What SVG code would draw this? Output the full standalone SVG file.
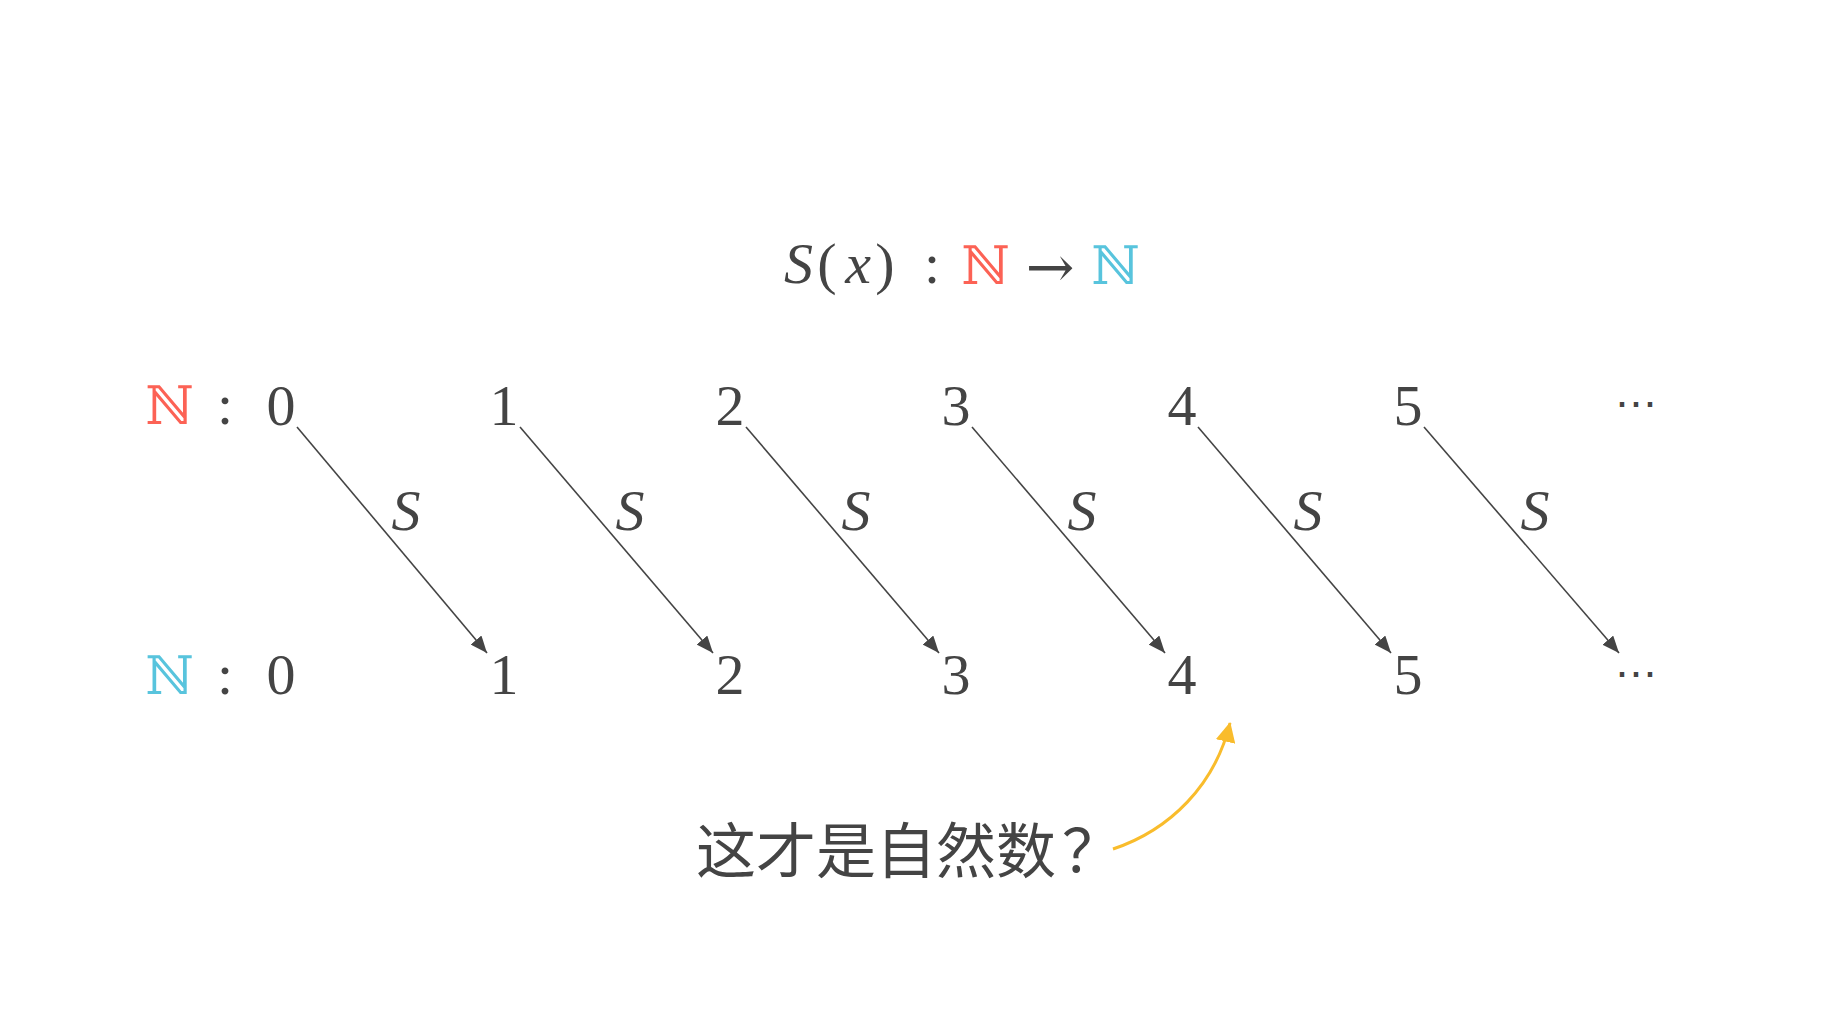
<svg xmlns="http://www.w3.org/2000/svg" width="1826" height="1027" viewBox="0 0 1826 1027">
  <style>
    .t { font-family: "Liberation Serif", "DejaVu Serif", serif; font-size: 58px; fill: #444444; }
    .it { font-style: italic; }
    .bb { font-family: "DejaVu Serif", "DejaVu Sans", serif; font-size: 53px; }
    .red { fill: #FC6255; }
    .blue { fill: #58C4DD; }
    .dots { font-family: "DejaVu Serif", serif; font-size: 42px; fill: #444444; }
    .cjk { font-family: "Noto Sans CJK SC", sans-serif; font-size: 60px; fill: #444444; }
    .edge { stroke: #444444; stroke-width: 1.6; fill: none; }
    .curve { stroke: #F9BC2C; stroke-width: 3; fill: none; }
  </style>
  <defs>
    <marker id="ah" markerUnits="userSpaceOnUse" markerWidth="17" markerHeight="14" refX="17" refY="7" orient="auto">
      <path d="M0,0 L17,7 L0,14 z" fill="#444444"/>
    </marker>
    <marker id="ahy" markerUnits="userSpaceOnUse" markerWidth="20" markerHeight="20" refX="19" refY="10" orient="auto">
      <path d="M0,0 L20,10 L0,20 z" fill="#F9BC2C"/>
    </marker>
  </defs>
  <rect width="1826" height="1027" fill="#ffffff"/>

  <g id="title">
    <text class="t it" x="784" y="283">S</text>
    <text class="t" x="827" y="283" text-anchor="middle">(</text>
    <text class="t it" x="858" y="283" text-anchor="middle">x</text>
    <text class="t" x="885" y="283" text-anchor="middle">)</text>
    <text class="t" x="932" y="283" text-anchor="middle">:</text>
    <text class="t bb red" x="985.5" y="284" text-anchor="middle">ℕ</text>
    <text class="t" x="1050" y="287" text-anchor="middle" style="font-family:'DejaVu Serif',serif;">→</text>
    <text class="t bb blue" x="1115.5" y="284" text-anchor="middle">ℕ</text>
  </g>

  <g id="row-top">
    <text class="t bb red" x="169.5" y="424" text-anchor="middle">ℕ</text>
    <text class="t" x="225" y="424" text-anchor="middle">:</text>
  </g>
  <g id="top-0"><text class="t" x="281" y="425" text-anchor="middle">0</text></g>
  <g id="top-1"><text class="t" x="504" y="425" text-anchor="middle">1</text></g>
  <g id="top-2"><text class="t" x="730" y="425" text-anchor="middle">2</text></g>
  <g id="top-3"><text class="t" x="956" y="425" text-anchor="middle">3</text></g>
  <g id="top-4"><text class="t" x="1182" y="425" text-anchor="middle">4</text></g>
  <g id="top-5"><text class="t" x="1408" y="425" text-anchor="middle">5</text></g>
  <g id="top-more"><text class="dots" x="1636" y="417" text-anchor="middle">⋯</text></g>

  <g id="row-bottom">
    <text class="t bb blue" x="169.5" y="694" text-anchor="middle">ℕ</text>
    <text class="t" x="225" y="694" text-anchor="middle">:</text>
  </g>
  <g id="bot-0"><text class="t" x="281" y="694" text-anchor="middle">0</text></g>
  <g id="bot-1"><text class="t" x="504" y="694" text-anchor="middle">1</text></g>
  <g id="bot-2"><text class="t" x="730" y="694" text-anchor="middle">2</text></g>
  <g id="bot-3"><text class="t" x="956" y="694" text-anchor="middle">3</text></g>
  <g id="bot-4"><text class="t" x="1182" y="694" text-anchor="middle">4</text></g>
  <g id="bot-5"><text class="t" x="1408" y="694" text-anchor="middle">5</text></g>
  <g id="bot-more"><text class="dots" x="1636" y="687" text-anchor="middle">⋯</text></g>

  <g id="question">
    <text class="cjk" x="696" y="873">这才是自然数<tspan x="1062">？</tspan></text>
  </g>

  <g id="connectors">
    <line class="edge" x1="297" y1="427" x2="487" y2="653" marker-end="url(#ah)"/>
    <line class="edge" x1="520" y1="427" x2="713" y2="653" marker-end="url(#ah)"/>
    <line class="edge" x1="746" y1="427" x2="939" y2="653" marker-end="url(#ah)"/>
    <line class="edge" x1="972" y1="427" x2="1165" y2="653" marker-end="url(#ah)"/>
    <line class="edge" x1="1198" y1="427" x2="1391" y2="653" marker-end="url(#ah)"/>
    <line class="edge" x1="1424" y1="427" x2="1619" y2="653" marker-end="url(#ah)"/>
    <path class="curve" d="M1113,849 C1170,830 1215,785 1230,723" marker-end="url(#ahy)"/>
  </g>

  <g id="labels">
    <text class="t it" x="406" y="530" text-anchor="middle">S</text>
    <text class="t it" x="630" y="530" text-anchor="middle">S</text>
    <text class="t it" x="856" y="530" text-anchor="middle">S</text>
    <text class="t it" x="1082" y="530" text-anchor="middle">S</text>
    <text class="t it" x="1308" y="530" text-anchor="middle">S</text>
    <text class="t it" x="1535" y="530" text-anchor="middle">S</text>
  </g>
</svg>
